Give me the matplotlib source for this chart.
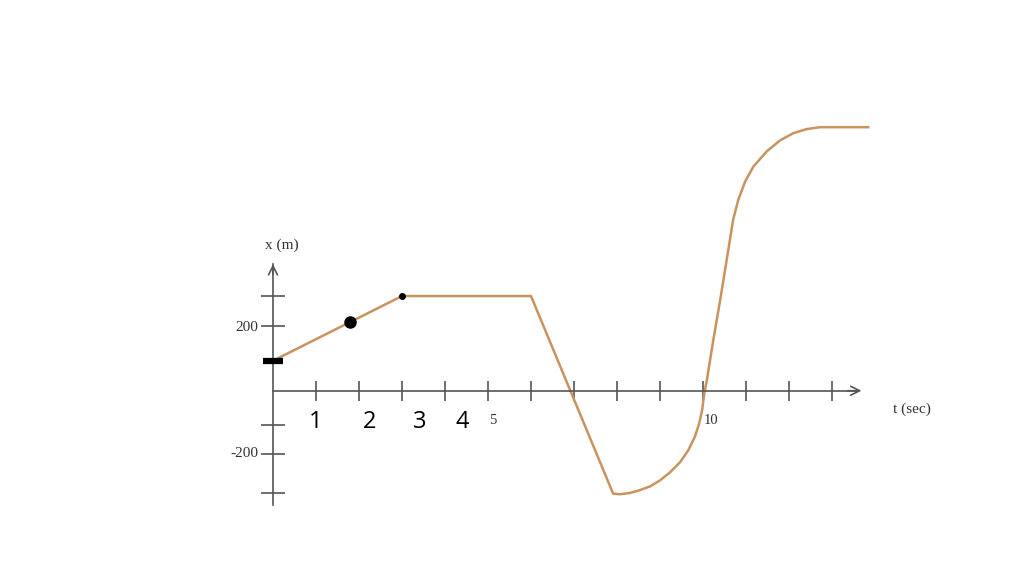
import matplotlib.pyplot as plt

# position x (m) vs time t (sec)
t_pts = [0, 3, 6, 7.91, 8.07, 8.30, 8.53, 8.77, 9.0, 9.23, 9.47, 9.66, 9.81, 9.91,
         9.98, 10.03, 10.09, 10.24, 10.4, 10.55, 10.70, 10.82, 10.98, 11.17, 11.48,
         11.79, 12.10, 12.41, 12.72, 13.84]
x_pts = [95, 300, 300, -326, -328, -324, -315, -303, -284, -259, -226, -188, -146, -104,
         -61, -8, 34, 161, 288, 414, 541, 605, 663, 710, 758,
         793, 816, 829, 835, 835]

# black marker dots drawn by hand on the first segment
dot_t = [0, 1.8, 3]
dot_x = [95, 218, 300]

x_ticks = list(range(1, 14))
y_ticks = [300, 205, -110, -200, -325]
y_labels = {200: "200", -200: "-200"}
t_labels = {5: "5", 10: "10"}
hand_labels = ["1", "2", "3", "4"]
hand_pos = [1.0, 2.25, 3.4, 4.4]

line_col = '#c8935f'
axis_col = '#555555'

fig = plt.figure(figsize=(10.24, 5.76), dpi=100)
ax = fig.add_axes([0, 0, 1, 1])
ax.set_xlim(-6.349, 17.465)
ax.set_ylim(-587, 1238)

for s in ['top', 'right']:
    ax.spines[s].set_visible(False)
ax.spines['left'].set_position(('data', 0))
ax.spines['bottom'].set_position(('data', 0))
ax.spines['left'].set_bounds(-362, 400)
ax.spines['bottom'].set_bounds(0, 13.6)
for s in ['left', 'bottom']:
    ax.spines[s].set_color(axis_col)
    ax.spines[s].set_linewidth(1.2)

ax.set_xticks(x_ticks)
ax.set_yticks(y_ticks)
ax.set_xticklabels([])
ax.set_yticklabels([])
ax.tick_params(axis='x', direction='inout', length=15, width=1.2, color=axis_col)
ax.tick_params(axis='y', direction='inout', length=17, width=1.2, color=axis_col)

# arrow heads
ax.annotate('', xy=(0, 410), xytext=(0, 360),
            arrowprops=dict(arrowstyle='->', color=axis_col, lw=1.2, mutation_scale=16))
ax.annotate('', xy=(13.75, 0), xytext=(13.3, 0),
            arrowprops=dict(arrowstyle='->', color=axis_col, lw=1.2, mutation_scale=16))

ax.plot(t_pts, x_pts, color=line_col, lw=1.8, solid_joinstyle='round')

ax.plot(dot_t[0], dot_x[0], marker='_', color='black', markersize=15, mew=4.5,
        zorder=5)
ax.plot(dot_t[1], dot_x[1], marker='o', color='black', markersize=8, zorder=5)
ax.plot(dot_t[2], dot_x[2], marker='o', color='black', markersize=4, zorder=5)

serif = 'Liberation Serif'
for v, lab in y_labels.items():
    ax.text(-0.35, v, lab, ha='right', va='center', fontsize=11,
            family=serif, color='#333333')
for v, lab in t_labels.items():
    ax.text(v + 0.02, -95, lab, ha='left', va='center', fontsize=10.5,
            family=serif, color='#333333')
for v, lab in zip(hand_pos, hand_labels):
    ax.text(v, -100, lab, ha='center', va='center', fontsize=17,
            family='Open Sans', color='black')

ax.text(0.2, 460, "x (m)", ha='center', va='center', fontsize=11,
        family=serif, color='#333333')
ax.text(14.85, -58, "t (sec)", ha='center', va='center', fontsize=11,
        family=serif, color='#333333')

plt.savefig("out.png", dpi=100)
